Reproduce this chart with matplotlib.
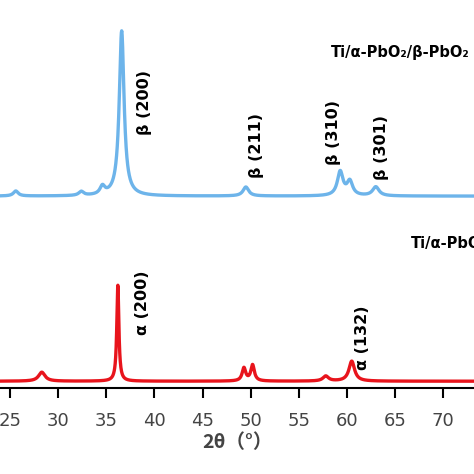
import matplotlib
matplotlib.use("Agg")
import matplotlib.pyplot as plt
import numpy as np

# peak lists: (2theta, height, width)
beta_peaks = [(25.6, 5, 0.3), (32.4, 4, 0.3), (34.6, 8, 0.3), (36.6, 165, 0.3),
              (49.5, 9, 0.35), (59.3, 24, 0.35), (60.3, 14, 0.35), (63.0, 9, 0.4)]
beta_base = 192
alpha_peaks = [(28.3, 9, 0.4), (36.2, 96, 0.13), (49.3, 13, 0.22), (50.2, 16, 0.22),
               (57.8, 5, 0.35), (60.5, 20, 0.35)]
alpha_base = 7

beta_labels = [("β (200)", 39.0, 253), ("β (211)", 50.6, 210), ("β (310)", 58.6, 223), ("β (301)", 63.6, 208)]
alpha_labels = [("α (200)", 38.8, 53), ("α (132)", 61.6, 18)]
xticks = [25, 30, 35, 40, 45, 50, 55, 60, 65, 70]

x = np.linspace(23.9, 73.3, 3000)

def pattern(peaks, base):
    y = np.full_like(x, base, dtype=float)
    for c, h, w in peaks:
        y += h / (1 + ((x - c) / w) ** 2)
    return y

fig = plt.figure(figsize=(4.74, 4.74), dpi=100)
ax = fig.add_axes([0, 0.181, 1, 0.819])
ax.plot(x, pattern(beta_peaks, beta_base), color="#6db4ea", lw=2.4)
ax.plot(x, pattern(alpha_peaks, alpha_base), color="#e8141c", lw=2.4)

for t, px, py in beta_labels + alpha_labels:
    ax.text(px, py, t, rotation=90, ha="center", va="bottom", fontsize=11.5, fontweight="bold")
ax.text(58.3, 336, "Ti/α-PbO₂/β-PbO₂", fontsize=10.5, fontweight="bold", va="center")
ax.text(66.6, 145, "Ti/α-PbO₂", fontsize=10.5, fontweight="bold", va="center")

ax.set_xlim(23.96, 73.2)
ax.set_ylim(0, 388)
for s in ["top", "left", "right"]:
    ax.spines[s].set_visible(False)
ax.spines["bottom"].set_linewidth(1.5)
ax.set_yticks([])
ax.set_xticks(xticks)
ax.tick_params(axis="x", direction="out", length=7, width=1.5, labelsize=13, labelcolor="#444444", pad=10)
ax.set_xlabel("2θ（°）", fontsize=14, color="#444444", fontweight="bold",
              family=["Noto Sans CJK SC", "DejaVu Sans"], labelpad=2)

fig.savefig("out.png", dpi=100)
